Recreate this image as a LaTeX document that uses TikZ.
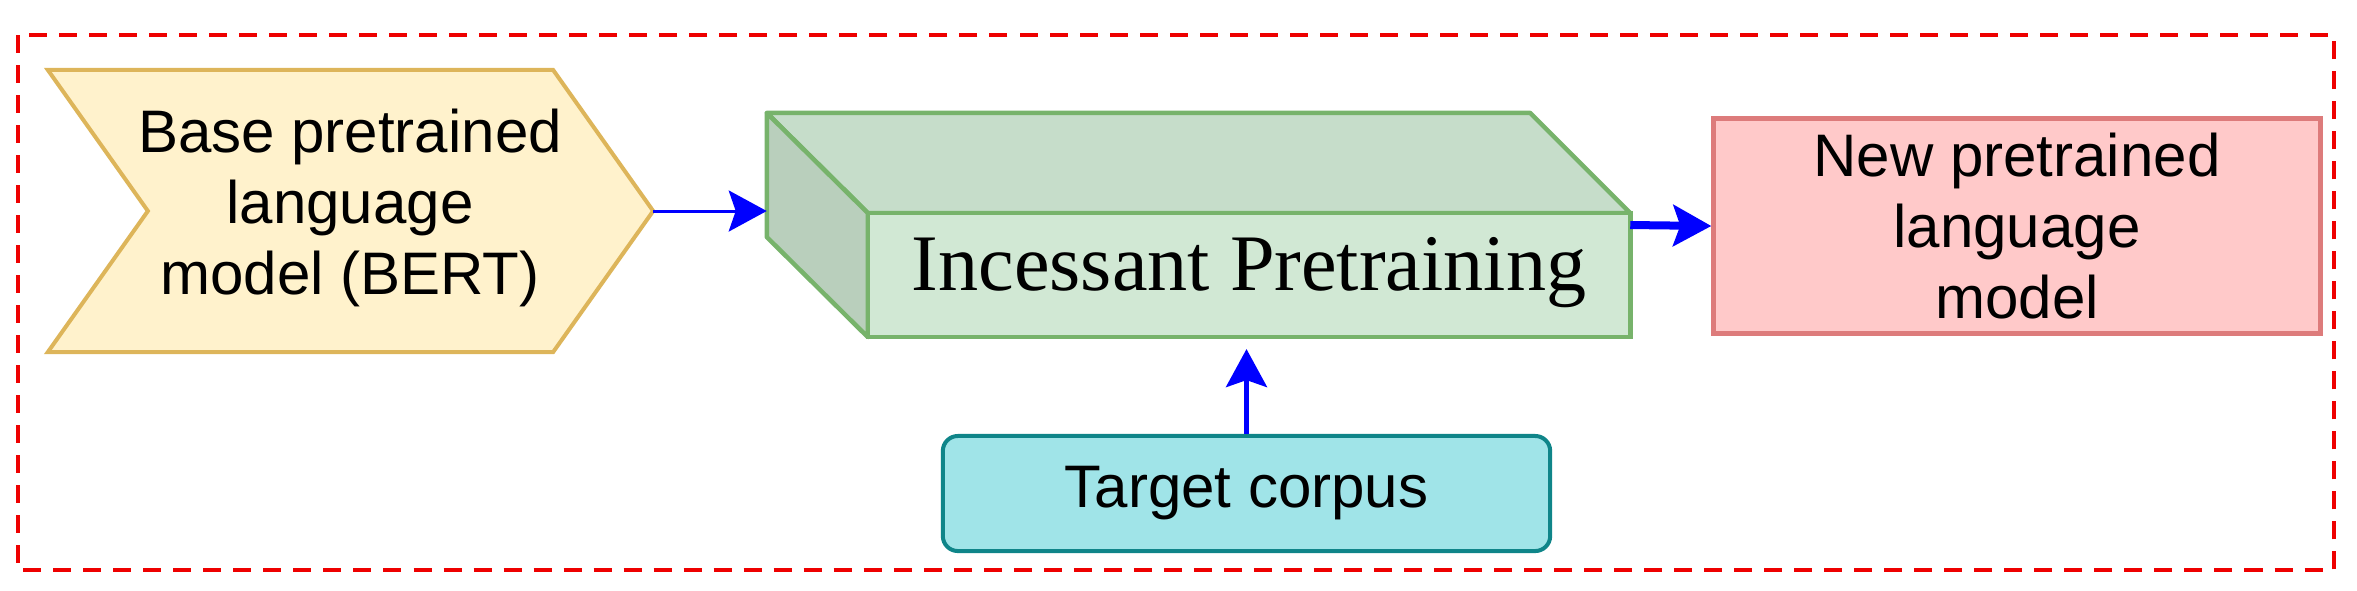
\documentclass[tikz,border=0pt]{standalone}
\usepackage{fontspec}
\setmainfont{Liberation Sans}
\newfontfamily\serifft{Liberation Serif}
\usetikzlibrary{arrows.meta}
\definecolor{chevfill}{HTML}{FFF2CC}
\definecolor{chevdraw}{HTML}{DDB55A}
\definecolor{gfront}{HTML}{D1E8D4}
\definecolor{gtop}{HTML}{C6DDCA}
\definecolor{gleft}{HTML}{B9CFBC}
\definecolor{gdraw}{HTML}{77B36B}
\definecolor{rfill}{HTML}{FFC9C9}
\definecolor{rdraw}{HTML}{DD7B7B}
\definecolor{cfill}{HTML}{A0E4E8}
\definecolor{cdraw}{HTML}{0F8589}
\definecolor{framered}{HTML}{EE0000}
\definecolor{arrowblue}{HTML}{0000FF}
\tikzset{
  sanstext/.style={font=\fontsize{17.07}{20.2}\selectfont, align=center, inner sep=0pt},
  flowarrow/.style={arrowblue, -{Stealth[length=0.38cm,width=0.41cm,inset=0.07cm]}},
  plainbox/.style={inner sep=0pt, outer sep=0pt},
}
\begin{document}
\begin{tikzpicture}[x=0.01cm,y=-0.01cm]
\useasboundingbox (0,0) rectangle (2357,590);
% outer dashed frame
\draw[framered, line width=0.04cm, dash pattern=on 0.18cm off 0.12cm] (18,35) rectangle (2334,570);

% chevron
\node[plainbox, minimum width=6.05cm, minimum height=2.82cm] (base) at (350.5,211) {};
\draw[fill=chevfill, draw=chevdraw, line width=0.04cm, line join=miter]
  (base.north west) -- ([xshift=-1cm]base.north east) -- (base.east)
  -- ([xshift=-1cm]base.south east) -- (base.south west)
  -- ([xshift=1cm]base.west) -- cycle;
\node[sanstext] (basetext) at (350,208) {Base pretrained\\language\\model (BERT)};

% 3D green box
\node[plainbox, minimum width=8.63cm, minimum height=2.24cm] (inc) at (1198.5,225) {};
\draw[fill=gtop, draw=gdraw, line width=0.045cm, line join=round]
  (inc.north west) -- ([xshift=-1cm]inc.north east) -- ([yshift=-1cm]inc.north east)
  -- ([xshift=1.01cm,yshift=-1cm]inc.north west) -- cycle;
\draw[fill=gleft, draw=gdraw, line width=0.045cm, line join=round]
  (inc.north west) -- ([xshift=1.01cm,yshift=-1cm]inc.north west)
  -- ([xshift=1.01cm]inc.south west) -- ([yshift=1cm]inc.south west) -- cycle;
\draw[fill=gfront, draw=gdraw, line width=0.045cm]
  ([xshift=1.01cm,yshift=-1cm]inc.north west) rectangle (inc.south east);
\node[font=\serifft\fontsize{22.8}{27}\selectfont, anchor=base, inner sep=0pt] (inctext) at (1249,290) {Incessant Pretraining};

% red box
\node[sanstext, draw=rdraw, fill=rfill, line width=0.05cm, minimum width=6.06cm, minimum height=2.14cm] (newm) at (2017,226) {New pretrained\\language\\model};

% target corpus
\node[sanstext, draw=cdraw, fill=cfill, line width=0.04cm, rounded corners=0.15cm, minimum width=6.07cm, minimum height=1.15cm] (corpus) at (1246.5,493.5) {Target corpus};

% arrows
\draw[flowarrow, line width=0.03cm] (base.east) -- (base.east -| inc.west);
\draw[flowarrow, line width=0.08cm] (inc.east) -- (newm.west);
\draw[flowarrow, line width=0.045cm, shorten >=0.12cm] (corpus.north) -- (corpus.north |- inc.south);
\end{tikzpicture}
\end{document}
